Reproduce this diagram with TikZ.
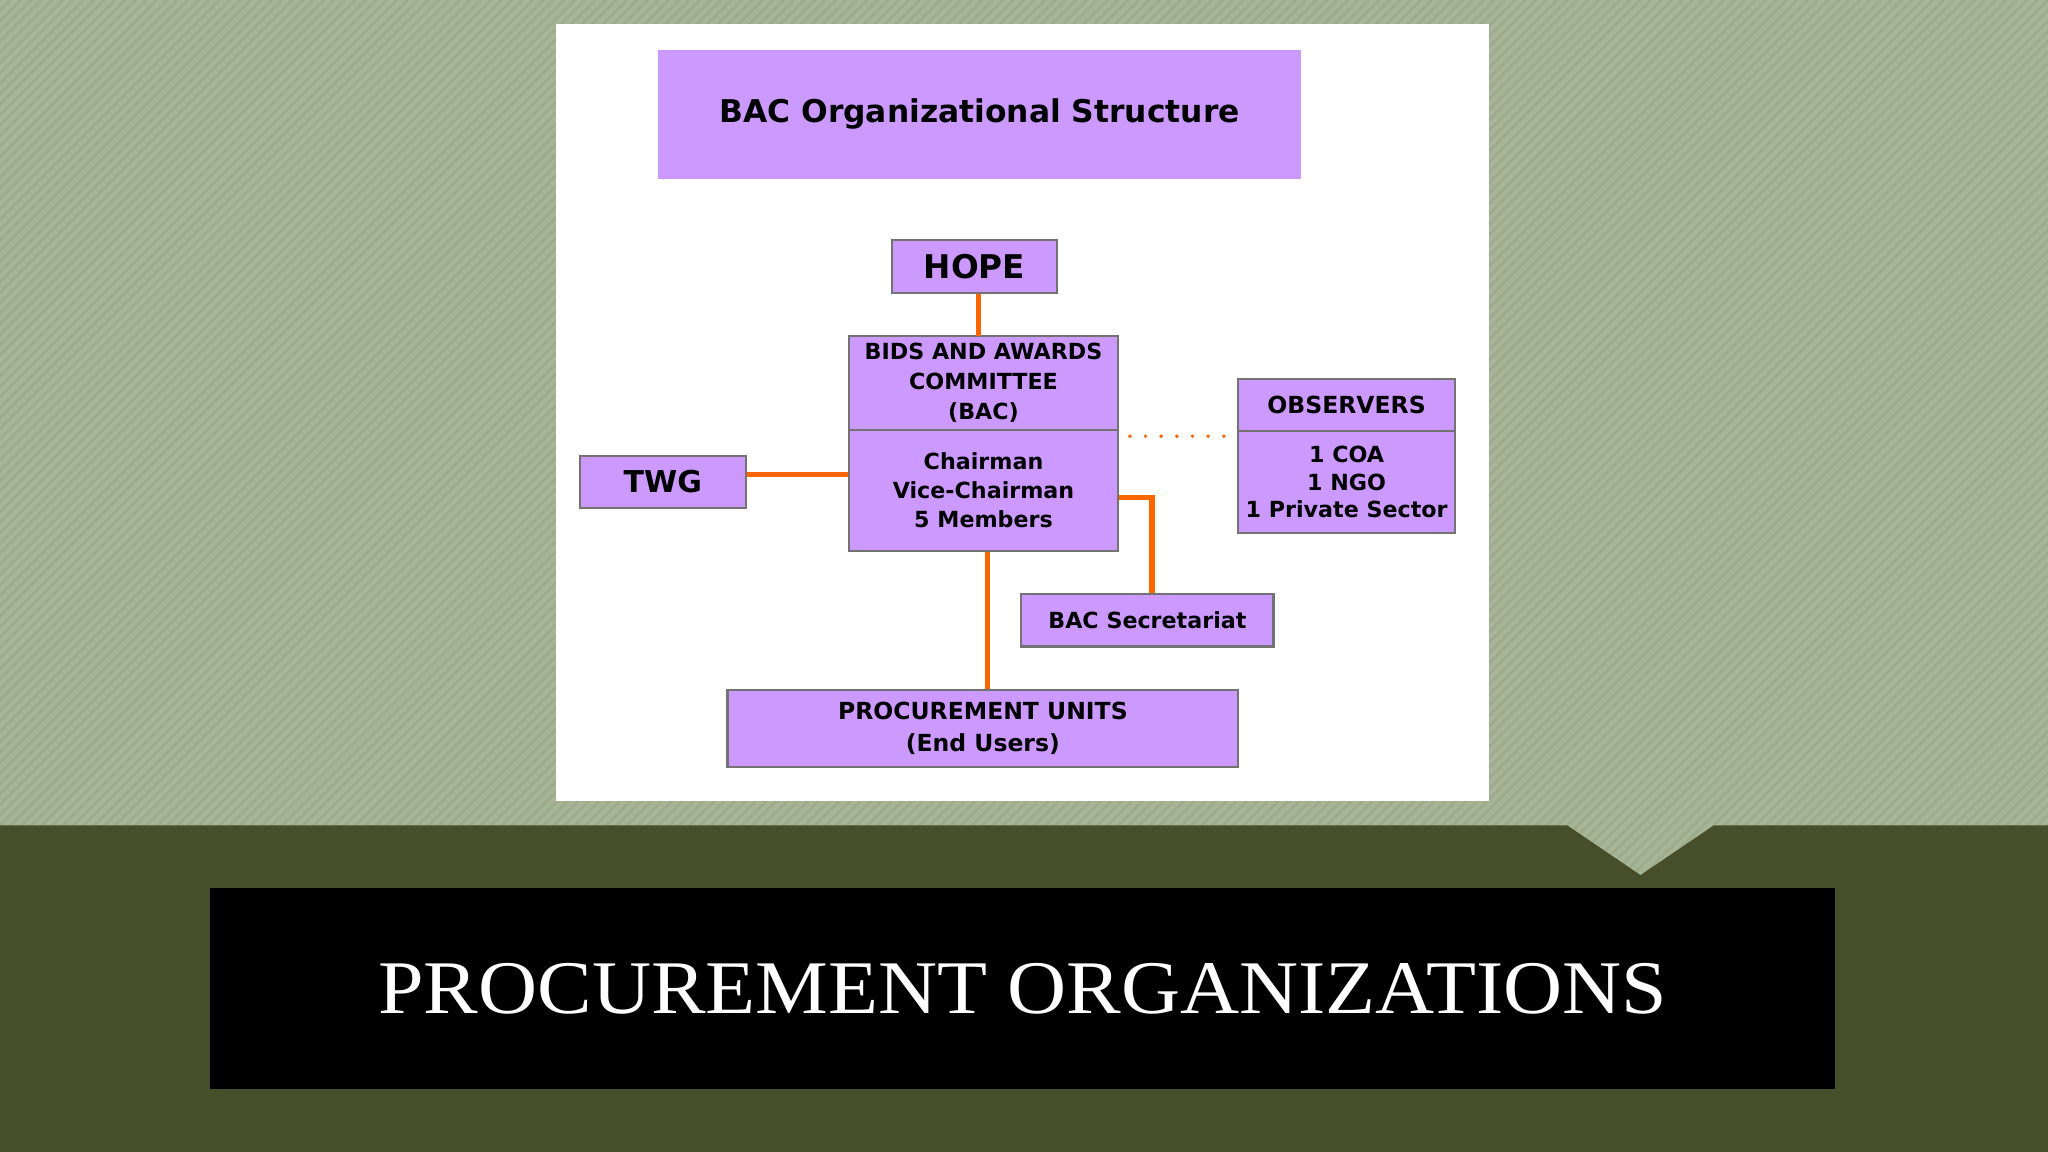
\documentclass[tikz,border=0pt]{standalone}
\usepackage{fontspec}
\setmainfont{DejaVu Sans}
\newfontfamily\serifttl[FakeStretch=1.08]{Liberation Serif}
\definecolor{bgl}{HTML}{A6B595}
\definecolor{bgs}{HTML}{9CAB8B}
\definecolor{bgd}{HTML}{474F2A}
\definecolor{purp}{HTML}{CC99FF}
\definecolor{org}{HTML}{FF6600}
\begin{document}
\begin{tikzpicture}[x=1pt,y=-1pt,
  box/.style={draw=gray!90!black,line width=1.6pt,fill=purp,inner sep=0pt,font=\bfseries},
  conn/.style={draw=org,line width=4pt}]
\useasboundingbox (0,0) rectangle (1568,882);
\fill[bgl] (0,0) rectangle (1568,700);
\begin{scope}
\clip (0,0) rectangle (1568,700);
\foreach \i in {0,8,...,2300}{\draw[bgs,line width=2pt] (\i,0) -- (\i-760,760);}
\end{scope}
\fill[bgd] (0,632) -- (1200,632) -- (1256,670) -- (1312,632) -- (1568,632) -- (1568,882) -- (0,882) -- cycle;
\fill[black] (161,680) rectangle (1405,834);
\node[white,font=\serifttl\fontsize{58}{60}\selectfont] (ttl) at (783,757) {PROCUREMENT ORGANIZATIONS};
\fill[white] (426,18) rectangle (1140,613);
\node[fill=purp,minimum width=492pt,minimum height=99pt,font=\bfseries\fontsize{24}{28}\selectfont] (head) at (750,87.5) {BAC Organizational Structure};
% nodes
\node[box,minimum width=126pt,minimum height=40pt,font=\bfseries\fontsize{25}{28}\selectfont] (hope) at (746,204) {HOPE};
\node[box,minimum width=206pt,minimum height=72pt,align=center,font=\bfseries\fontsize{17}{23}\selectfont] (bac) at (753,293) {BIDS AND AWARDS\\COMMITTEE\\(BAC)};
\node[box,minimum width=206pt,minimum height=93pt,align=center,font=\bfseries\fontsize{17}{22}\selectfont] (mem) at (753,375.5) {Chairman\\Vice-Chairman\\5 Members};
\node[box,minimum width=127pt,minimum height=40pt,font=\bfseries\fontsize{23}{26}\selectfont] (twg) at (507.5,369) {TWG};
\node[box,minimum width=166pt,minimum height=40pt,font=\bfseries\fontsize{18}{22}\selectfont] (obs) at (1031,310) {OBSERVERS};
\node[box,minimum width=166pt,minimum height=78pt,align=center,font=\bfseries\fontsize{17}{21}\selectfont] (obm) at (1031,369) {1 COA\\1 NGO\\1 Private Sector};
\node[box,minimum width=193pt,minimum height=40pt,font=\bfseries\fontsize{17}{21}\selectfont] (sec) at (878.5,475) {BAC Secretariat};
\node[box,minimum width=391pt,minimum height=59pt,align=center,font=\bfseries\fontsize{18}{24}\selectfont] (pu) at (752.5,557.5) {PROCUREMENT UNITS\\(End Users)};
% connectors
\draw[conn] (hope.south -| 749,0) -- (749,257);
\draw[conn] (twg.east |- 0,363) -- (mem.west |- 0,363);
\draw[conn] (mem.south -| 756,0) -- (pu.north -| 756,0);
\draw[conn] (mem.east |- 0,381) -- (882,381) -- (sec.north -| 882,0);
\coordinate (d1) at (865,334); \coordinate (d2) at (938,334);
\draw[org,line width=3pt,line cap=round,dash pattern=on 0pt off 12pt] (d1) -- (d2);
\end{tikzpicture}
\end{document}
